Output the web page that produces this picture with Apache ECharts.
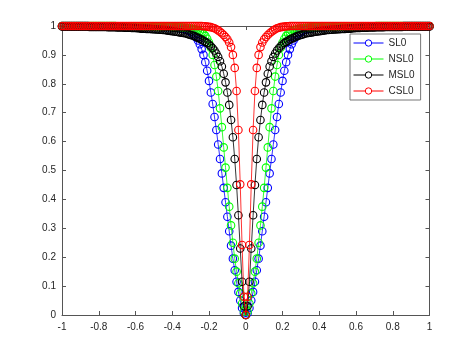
<!DOCTYPE html>
<html>
<head>
<meta charset="utf-8">
<script src="https://cdn.jsdelivr.net/npm/echarts@6/dist/echarts.min.js"></script>
<style>html,body{margin:0;padding:0;background:#fff}#c{width:474px;height:355px}</style>
</head>
<body>
<div id="c"></div>
<script>
var xs = [
-1,-0.99,-0.98,-0.97,-0.96,-0.95,-0.94,-0.93,-0.92,-0.91,
-0.9,-0.89,-0.88,-0.87,-0.86,-0.85,-0.84,-0.83,-0.82,-0.81,
-0.8,-0.79,-0.78,-0.77,-0.76,-0.75,-0.74,-0.73,-0.72,-0.71,
-0.7,-0.69,-0.68,-0.67,-0.66,-0.65,-0.64,-0.63,-0.62,-0.61,
-0.6,-0.59,-0.58,-0.57,-0.56,-0.55,-0.54,-0.53,-0.52,-0.51,
-0.5,-0.49,-0.48,-0.47,-0.46,-0.45,-0.44,-0.43,-0.42,-0.41,
-0.4,-0.39,-0.38,-0.37,-0.36,-0.35,-0.34,-0.33,-0.32,-0.31,
-0.3,-0.29,-0.28,-0.27,-0.26,-0.25,-0.24,-0.23,-0.22,-0.21,
-0.2,-0.19,-0.18,-0.17,-0.16,-0.15,-0.14,-0.13,-0.12,-0.11,
-0.1,-0.09,-0.08,-0.07,-0.06,-0.05,-0.04,-0.03,-0.02,-0.01,
0,
0.01,0.02,0.03,0.04,0.05,0.06,0.07,0.08,0.09,0.1,
0.11,0.12,0.13,0.14,0.15,0.16,0.17,0.18,0.19,0.2,
0.21,0.22,0.23,0.24,0.25,0.26,0.27,0.28,0.29,0.3,
0.31,0.32,0.33,0.34,0.35,0.36,0.37,0.38,0.39,0.4,
0.41,0.42,0.43,0.44,0.45,0.46,0.47,0.48,0.49,0.5,
0.51,0.52,0.53,0.54,0.55,0.56,0.57,0.58,0.59,0.6,
0.61,0.62,0.63,0.64,0.65,0.66,0.67,0.68,0.69,0.7,
0.71,0.72,0.73,0.74,0.75,0.76,0.77,0.78,0.79,0.8,
0.81,0.82,0.83,0.84,0.85,0.86,0.87,0.88,0.89,0.9,
0.91,0.92,0.93,0.94,0.95,0.96,0.97,0.98,0.99,1
];

var SL0 = [
1,1,1,1,1,1,1,1,1,1,
1,1,1,1,1,0.999,0.999,0.999,0.999,0.999,
0.999,0.999,0.999,0.999,0.999,0.999,0.999,0.999,0.999,0.999,
0.998,0.998,0.998,0.998,0.998,0.998,0.998,0.998,0.998,0.998,
0.998,0.998,0.998,0.998,0.998,0.997,0.997,0.997,0.997,0.997,
0.997,0.997,0.997,0.997,0.997,0.996,0.996,0.996,0.996,0.996,
0.995,0.995,0.994,0.993,0.992,0.991,0.99,0.988,0.986,0.983,
0.979,0.974,0.968,0.96,0.95,0.937,0.92,0.9,0.875,0.845,
0.81,0.77,0.73,0.685,0.64,0.59,0.54,0.49,0.44,0.39,
0.34,0.29,0.24,0.195,0.155,0.115,0.08,0.05,0.024,0.006,
0,
0.006,0.024,0.05,0.08,0.115,0.155,0.195,0.24,0.29,0.34,
0.39,0.44,0.49,0.54,0.59,0.64,0.685,0.73,0.77,0.81,
0.845,0.875,0.9,0.92,0.937,0.95,0.96,0.968,0.974,0.979,
0.983,0.986,0.988,0.99,0.991,0.992,0.993,0.994,0.995,0.995,
0.996,0.996,0.996,0.996,0.996,0.997,0.997,0.997,0.997,0.997,
0.997,0.997,0.997,0.997,0.997,0.998,0.998,0.998,0.998,0.998,
0.998,0.998,0.998,0.998,0.998,0.998,0.998,0.998,0.998,0.998,
0.999,0.999,0.999,0.999,0.999,0.999,0.999,0.999,0.999,0.999,
0.999,0.999,0.999,0.999,0.999,1,1,1,1,1,
1,1,1,1,1,1,1,1,1,1
];

var NSL0 = [
1,1,1,1,1,1,1,1,1,1,
1,1,1,1,1,1,1,1,1,1,
1,1,1,1,1,1,1,1,1,1,
0.999,0.999,0.999,0.999,0.999,0.999,0.999,0.999,0.999,0.999,
0.999,0.999,0.998,0.998,0.998,0.998,0.998,0.998,0.998,0.998,
0.998,0.998,0.997,0.997,0.997,0.997,0.997,0.997,0.997,0.997,
0.996,0.996,0.996,0.996,0.996,0.995,0.994,0.994,0.993,0.992,
0.991,0.99,0.989,0.987,0.985,0.982,0.978,0.973,0.966,0.956,
0.943,0.925,0.9,0.865,0.825,0.775,0.715,0.65,0.58,0.51,
0.44,0.375,0.31,0.25,0.195,0.15,0.11,0.075,0.04,0.012,
0,
0.012,0.04,0.075,0.11,0.15,0.195,0.25,0.31,0.375,0.44,
0.51,0.58,0.65,0.715,0.775,0.825,0.865,0.9,0.925,0.943,
0.956,0.966,0.973,0.978,0.982,0.985,0.987,0.989,0.99,0.991,
0.992,0.993,0.994,0.994,0.995,0.996,0.996,0.996,0.996,0.996,
0.997,0.997,0.997,0.997,0.997,0.997,0.997,0.997,0.998,0.998,
0.998,0.998,0.998,0.998,0.998,0.998,0.998,0.998,0.999,0.999,
0.999,0.999,0.999,0.999,0.999,0.999,0.999,0.999,0.999,0.999,
1,1,1,1,1,1,1,1,1,1,
1,1,1,1,1,1,1,1,1,1,
1,1,1,1,1,1,1,1,1,1
];

var MSL0 = [
0.998,0.998,0.998,0.998,0.998,0.998,0.998,0.998,0.998,0.998,
0.998,0.998,0.998,0.998,0.998,0.997,0.997,0.997,0.997,0.997,
0.997,0.997,0.997,0.997,0.997,0.996,0.996,0.996,0.996,0.996,
0.995,0.995,0.995,0.995,0.994,0.994,0.994,0.994,0.993,0.993,
0.993,0.992,0.992,0.991,0.991,0.991,0.99,0.99,0.99,0.989,
0.989,0.988,0.988,0.987,0.987,0.986,0.986,0.985,0.984,0.983,
0.982,0.981,0.98,0.979,0.978,0.977,0.976,0.975,0.973,0.971,
0.969,0.967,0.965,0.962,0.959,0.956,0.953,0.949,0.945,0.941,
0.936,0.93,0.923,0.915,0.905,0.893,0.878,0.86,0.835,0.805,
0.77,0.727,0.675,0.615,0.54,0.45,0.345,0.23,0.115,0.03,
0,
0.03,0.115,0.23,0.345,0.45,0.54,0.615,0.675,0.727,0.77,
0.805,0.835,0.86,0.878,0.893,0.905,0.915,0.923,0.93,0.936,
0.941,0.945,0.949,0.953,0.956,0.959,0.962,0.965,0.967,0.969,
0.971,0.973,0.975,0.976,0.977,0.978,0.979,0.98,0.981,0.982,
0.983,0.984,0.985,0.986,0.986,0.987,0.987,0.988,0.988,0.989,
0.989,0.99,0.99,0.99,0.991,0.991,0.991,0.992,0.992,0.993,
0.993,0.993,0.994,0.994,0.994,0.994,0.995,0.995,0.995,0.995,
0.996,0.996,0.996,0.996,0.996,0.997,0.997,0.997,0.997,0.997,
0.997,0.997,0.997,0.997,0.997,0.998,0.998,0.998,0.998,0.998,
0.998,0.998,0.998,0.998,0.998,0.998,0.998,0.998,0.998,0.998
];

var CSL0 = [
1,1,1,1,1,1,1,1,1,1,
1,1,1,1,1,1,1,1,1,1,
1,1,1,1,1,1,1,1,1,1,
1,1,1,1,1,1,1,1,1,1,
1,1,1,1,1,1,1,1,1,1,
1,1,1,1,1,1,1,1,1,1,
1,1,1,1,1,1,1,1,1,1,
1,1,1,1,1,1,1,0.999,0.999,0.998,
0.997,0.996,0.994,0.992,0.989,0.985,0.98,0.975,0.969,0.962,
0.954,0.943,0.927,0.9,0.855,0.775,0.64,0.452,0.242,0.063,
0,
0.063,0.242,0.452,0.64,0.775,0.855,0.9,0.927,0.943,0.954,
0.962,0.969,0.975,0.98,0.985,0.989,0.992,0.994,0.996,0.997,
0.998,0.999,0.999,1,1,1,1,1,1,1,
1,1,1,1,1,1,1,1,1,1,
1,1,1,1,1,1,1,1,1,1,
1,1,1,1,1,1,1,1,1,1,
1,1,1,1,1,1,1,1,1,1,
1,1,1,1,1,1,1,1,1,1,
1,1,1,1,1,1,1,1,1,1,
1,1,1,1,1,1,1,1,1,1
];

var seriesNames = ['SL0', 'NSL0', 'MSL0', 'CSL0'];
var seriesValues = [SL0, NSL0, MSL0, CSL0];
var seriesColors = ['#0000ff', '#00ff00', '#000000', '#ff0000'];

function pairs(vals) {
  return xs.map(function (x, i) { return [x, vals[i]]; });
}

var FONT = '"Liberation Sans", Arial, Helvetica, sans-serif';
var AX = '#555555';
var TXT = '#262626';

var chart = echarts.init(document.getElementById('c'), null, {renderer: 'canvas'});

var series = seriesNames.map(function (n, k) {
  return {
    name: n,
    type: 'line',
    data: pairs(seriesValues[k]),
    symbol: 'circle',
    symbolSize: 7.5,
    showAllSymbol: true,
    color: seriesColors[k],
    lineStyle: {width: 0.8, color: seriesColors[k]},
    itemStyle: {color: 'rgba(255,255,255,0)', borderColor: seriesColors[k], borderWidth: 1.1},
    emphasis: {disabled: true},
    animation: false,
    z: 2 + k
  };
});

chart.setOption({
  animation: false,
  backgroundColor: '#fff',
  grid: {left: 62, right: 44.5, top: 26, bottom: 40, containLabel: false},
  xAxis: [{
    type: 'value', min: -1, max: 1, interval: 0.2,
    axisLine: {show: true, onZero: false, lineStyle: {color: AX, width: 1}},
    axisTick: {show: true, inside: true, length: 4, lineStyle: {color: AX}},
    axisLabel: {color: TXT, fontFamily: FONT, fontSize: 10, margin: 7},
    splitLine: {show: false}
  }, {
    type: 'value', min: -1, max: 1, interval: 0.2, position: 'top',
    axisLine: {show: true, onZero: false, lineStyle: {color: AX, width: 1}},
    axisTick: {show: true, inside: true, length: 4, lineStyle: {color: AX}},
    axisLabel: {show: false},
    splitLine: {show: false}
  }],
  yAxis: [{
    type: 'value', min: 0, max: 1, interval: 0.1,
    axisLine: {show: true, onZero: false, lineStyle: {color: AX, width: 1}},
    axisTick: {show: true, inside: true, length: 4, lineStyle: {color: AX}},
    axisLabel: {color: TXT, fontFamily: FONT, fontSize: 10, margin: 6},
    splitLine: {show: false}
  }, {
    type: 'value', min: 0, max: 1, interval: 0.1, position: 'right',
    axisLine: {show: true, onZero: false, lineStyle: {color: AX, width: 1}},
    axisTick: {show: true, inside: true, length: 4, lineStyle: {color: AX}},
    axisLabel: {show: false},
    splitLine: {show: false}
  }],
  legend: {
    show: true,
    data: seriesNames.map(function (n, k) {
      return {name: n, itemStyle: {color: '#fff', borderColor: seriesColors[k], borderWidth: 1}, lineStyle: {width: 1, color: seriesColors[k]}};
    }),
    orient: 'vertical',
    left: 350, top: 34,
    padding: [4, 6, 4, 3],
    itemWidth: 30, itemHeight: 8, itemGap: 6,
    backgroundColor: '#fff',
    borderColor: '#777', borderWidth: 1,
    textStyle: {color: TXT, fontFamily: FONT, fontSize: 10},
    selectedMode: false
  },
  series: series
});
</script>
</body>
</html>
